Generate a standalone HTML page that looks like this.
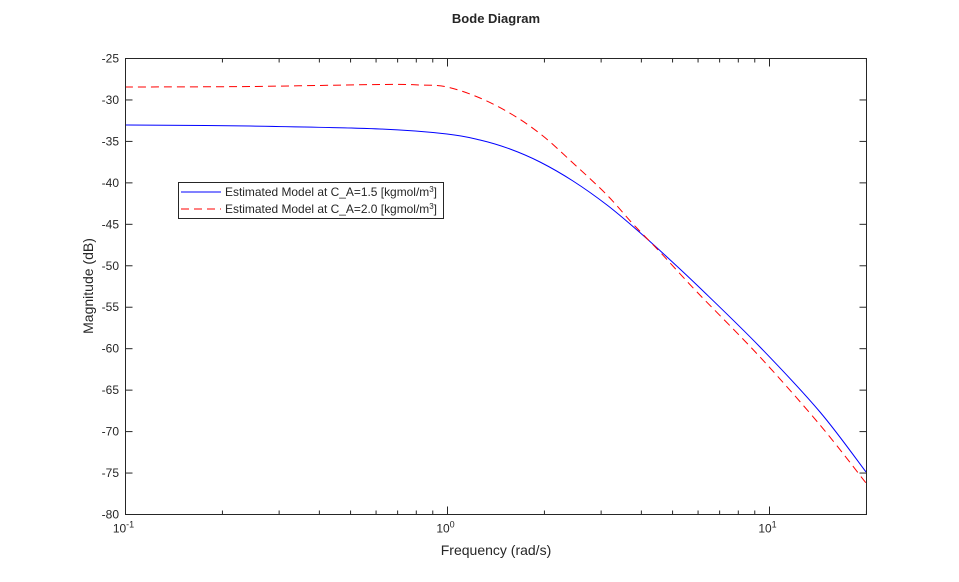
<!DOCTYPE html>
<html><head><meta charset="utf-8"><style>
body{margin:0;background:#fff;}
text{font-family:"Liberation Sans",Arial,sans-serif;fill:#262626;}
</style></head><body>
<svg id="s" width="959" height="577" xmlns="http://www.w3.org/2000/svg">
<rect width="959" height="577" fill="#fff"/>
<text x="496" y="23" font-size="13" font-weight="bold" text-anchor="middle">Bode Diagram</text>
<g id="ax"></g>
<path id="blue" fill="none" stroke="#0000ff" stroke-width="1"/>
<path id="red" fill="none" stroke="#ff0000" stroke-width="1" stroke-dasharray="8,5"/>
<rect x="125.5" y="58.5" width="741" height="456" fill="none" stroke="#262626" stroke-width="1"/>
<rect x="178.5" y="182.5" width="265" height="36" fill="#fff" stroke="#262626"/>
<line x1="181" y1="192" x2="221" y2="192" stroke="#0000ff"/>
<line x1="181" y1="209" x2="221" y2="209" stroke="#ff0000" stroke-dasharray="8,5"/>
<text x="225" y="196" font-size="12" textLength="212" lengthAdjust="spacingAndGlyphs">Estimated Model at C_A=1.5 [kgmol/m<tspan dy="-4" font-size="8">3</tspan><tspan dy="4">]</tspan></text>
<text x="225" y="213" font-size="12" textLength="212" lengthAdjust="spacingAndGlyphs">Estimated Model at C_A=2.0 [kgmol/m<tspan dy="-4" font-size="8">3</tspan><tspan dy="4">]</tspan></text>
<text x="496" y="555" font-size="14" text-anchor="middle">Frequency (rad/s)</text>
<text transform="translate(93,286) rotate(-90)" font-size="14" text-anchor="middle">Magnitude (dB)</text>
</svg>
<script>
var ax=document.getElementById('ax'),h='';
var L=125.5,R=866.5,T=58.5,B=514.5;
for(var v=-25;v>=-80;v-=5){var y=58.5+(-25-v)*456/55;
h+='<line x1="'+L+'" y1="'+y+'" x2="'+(L+7)+'" y2="'+y+'" stroke="#262626"/><line x1="'+R+'" y1="'+y+'" x2="'+(R-7)+'" y2="'+y+'" stroke="#262626"/>';
h+='<text x="119" y="'+(y+4)+'" font-size="12" text-anchor="end">'+v+'</text>';}
function fx(f){return 125.5+(Math.log10(f)+1)*322;}
for(var d=-1;d<=1;d++)for(var m=1;m<=9;m++){var f=m*Math.pow(10,d);if(f>20.01)break;var x=fx(f);var len=m==1?8:4;
h+='<line x1="'+x+'" y1="'+B+'" x2="'+x+'" y2="'+(B-len)+'" stroke="#262626"/><line x1="'+x+'" y1="'+T+'" x2="'+x+'" y2="'+(T+len)+'" stroke="#262626"/>';
if(m==1)h+='<text x="'+(x-2)+'" y="'+(B+18)+'" font-size="12" text-anchor="middle">10<tspan dy="-5" font-size="9">'+d+'</tspan></text>';}
ax.innerHTML=h;
function cr(p){var s='M'+p[0][0]+','+p[0][1];for(var i=0;i<p.length-1;i++){var p0=p[Math.max(0,i-1)],p1=p[i],p2=p[i+1],p3=p[Math.min(p.length-1,i+2)];
s+=' C'+(p1[0]+(p2[0]-p0[0])/6)+','+(p1[1]+(p2[1]-p0[1])/6)+' '+(p2[0]-(p3[0]-p1[0])/6)+','+(p2[1]-(p3[1]-p1[1])/6)+' '+p2[0]+','+p2[1];}return s;}
document.getElementById('blue').setAttribute('d',cr([[125,125],[250,126],[380,129],[447,134],[480,140],[510,149],[540,162],[573,181],[607,205],[637,230],[667,257],[700,288],[760,347],[820,412],[866,472]]));
document.getElementById('red').setAttribute('d',cr([[125,87],[250,86.5],[380,84.5],[420,85],[447,87],[480,98],[513,115],[543,136],[573,163],[607,195],[633,224],[660,252],[697,292],[760,357],[820,425],[866,483]]));
</script>
</body></html>
